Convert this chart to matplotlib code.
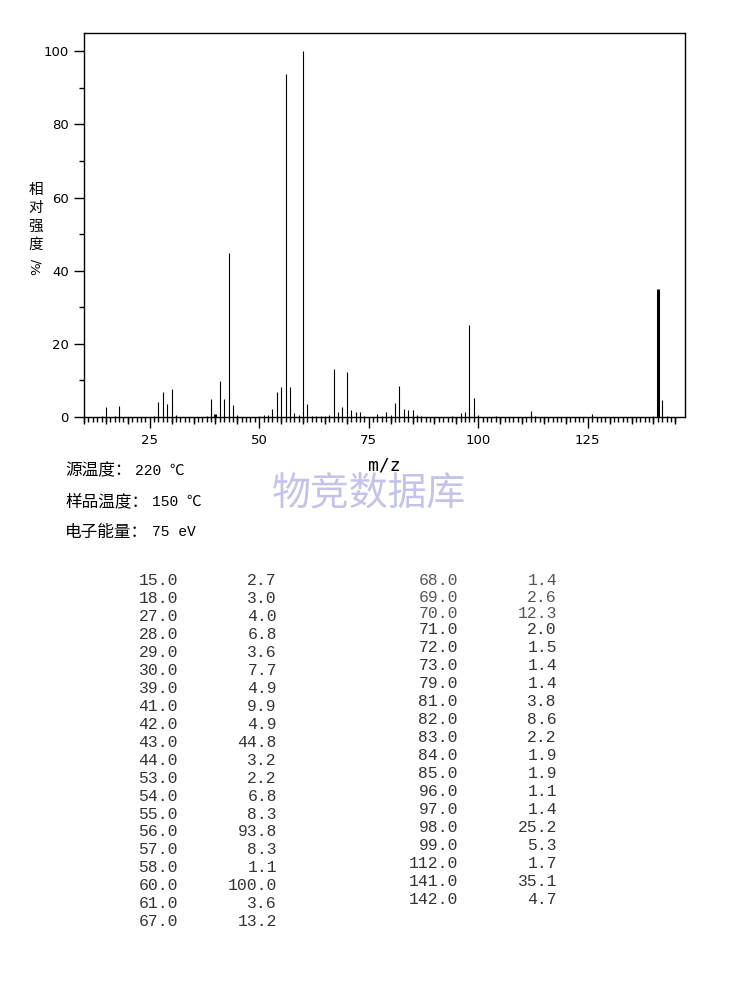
import matplotlib
matplotlib.use("Agg")
import matplotlib.pyplot as plt
from matplotlib.ticker import MultipleLocator, FixedLocator

# picos listados en la tabla
mz_tabla = [15, 18, 27, 28, 29, 30, 39, 41, 42, 43, 44, 53, 54, 55, 56, 57, 58, 60, 61, 67,
            68, 69, 70, 71, 72, 73, 79, 81, 82, 83, 84, 85, 96, 97, 98, 99, 112, 141, 142]
int_tabla = [2.7, 3.0, 4.0, 6.8, 3.6, 7.7, 4.9, 9.9, 4.9, 44.8, 3.2, 2.2, 6.8, 8.3, 93.8, 8.3, 1.1, 100.0, 3.6, 13.2,
             1.4, 2.6, 12.3, 2.0, 1.5, 1.4, 1.4, 3.8, 8.6, 2.2, 1.9, 1.9, 1.1, 1.4, 25.2, 5.3, 1.7, 35.1, 4.7]

# picos pequeños que solo aparecen en el espectro
mz_menores = [14, 17, 26, 31, 38, 40, 45, 50, 51, 52, 59, 62, 63, 64, 65, 66, 74, 77, 78, 80,
              86, 87, 94, 100, 104, 113, 126, 140, 143]
int_menores = [0.3, 0.3, 0.3, 0.5, 0.2, 0.8, 0.5, 0.3, 0.5, 0.5, 0.5, 0.2, 0.2, 0.3, 0.4, 0.5, 0.2, 0.8, 0.3, 0.5,
               0.5, 0.3, 0.2, 0.6, 0.2, 0.3, 0.8, 0.3, 0.3]

info_etiquetas = ["源温度：", "样品温度：", "电子能量："]
info_valores = ["220 ℃", "150 ℃", "75 eV"]

W, H = 737, 992
CJK = "Noto Sans CJK SC"
MONO = ["Liberation Mono", CJK]


def fx(px):
    return px / W


def fy(py):
    return 1 - py / H


fig = plt.figure(figsize=(W / 100, H / 100), dpi=100)
ax = fig.add_axes([fx(84), fy(417), fx(685) - fx(84), (417 - 33) / H])

# espectro
todos_mz = mz_tabla + mz_menores
todos_int = int_tabla + int_menores
anchos = [2.2 if m in (40, 141) else 0.8 for m in todos_mz]
ax.vlines(todos_mz, 0, todos_int, colors="black", linewidths=anchos)

ax.set_xlim(10, 147.2)
ax.set_ylim(0, 105)
for s in ax.spines.values():
    s.set_linewidth(1.0)

ax.xaxis.set_major_locator(FixedLocator([25, 50, 75, 100, 125]))
ax.xaxis.set_minor_locator(FixedLocator(list(range(10, 146))))
ax.yaxis.set_major_locator(MultipleLocator(20))
ax.yaxis.set_minor_locator(MultipleLocator(10))
ax.tick_params(axis="x", which="major", length=8, width=1, pad=4, labelsize=9.5)
ax.tick_params(axis="x", which="minor", length=3.6, width=1)
ax.tick_params(axis="y", which="major", length=7, width=1, pad=4, labelsize=9.5)
ax.tick_params(axis="y", which="minor", length=3.6, width=1)

# marcas medianas cada 5
sec = ax.secondary_xaxis("bottom")
sec.set_xticks([m for m in range(10, 146, 5) if m % 25 != 0])
sec.tick_params(length=5.2, width=1, labelbottom=False)
sec.spines["bottom"].set_visible(False)

# etiqueta eje y
for i, ch in enumerate("相对强度"):
    fig.text(fx(36), fy(190 + 18.3 * i), ch, family=CJK, fontsize=10.5,
             ha="center", va="center")
fig.text(fx(36), fy(266), "%/", fontsize=9.5, rotation=90, ha="center", va="center")

fig.text(fx(384), fy(465), "m/z", family="DejaVu Sans Mono", fontsize=13,
         ha="center", va="center")

# marca de agua
fig.text(fx(369), fy(494), "物竞数据库", family=CJK, fontsize=28, color="#c4c4ea",
         ha="center", va="center", zorder=0)

# condiciones
for i, (et, val) in enumerate(zip(info_etiquetas, info_valores)):
    y = 471 + 30.5 * i
    fig.text(fx(65), fy(y), et, family=CJK, fontsize=12, ha="left", va="center")
    fig.text(fx(65 + 17 * len(et) + 2), fy(y), val, family=MONO, fontsize=10.5,
             ha="left", va="center")

# tabla
n_izq = 20
for i in range(n_izq):
    y = 580.7 + 17.95 * i
    fig.text(fx(178), fy(y), f"{mz_tabla[i]:.1f}", family=MONO, fontsize=11.8,
             color="#333333", ha="right", va="center")
    fig.text(fx(277), fy(y), f"{int_tabla[i]:.1f}", family=MONO, fontsize=11.8,
             color="#333333", ha="right", va="center")
for j, i in enumerate(range(n_izq, len(mz_tabla))):
    y = 576 + 18 * j + (4.5 - 1.5 * j if j < 3 else 0)
    col = "#555555" if j < 3 else "#333333"
    fig.text(fx(458), fy(y), f"{mz_tabla[i]:.1f}", family=MONO, fontsize=11.8,
             color=col, ha="right", va="center")
    fig.text(fx(557), fy(y), f"{int_tabla[i]:.1f}", family=MONO, fontsize=11.8,
             color=col, ha="right", va="center")

fig.savefig("out.png", dpi=100)
